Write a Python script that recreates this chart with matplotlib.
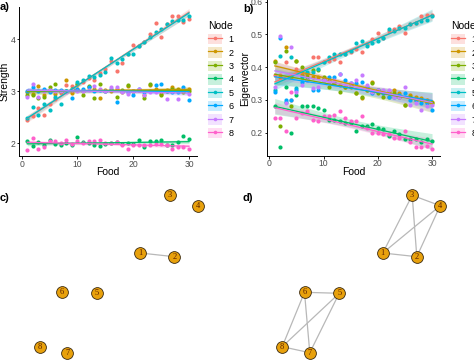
import numpy as np
import matplotlib
matplotlib.use("Agg")
import matplotlib.pyplot as plt
from matplotlib.patches import Patch
from matplotlib.lines import Line2D
from matplotlib.legend_handler import HandlerTuple

plt.rcParams['font.family'] = ['Liberation Sans', 'DejaVu Sans']

food = np.arange(1, 31)
nodes = ['1', '2', '3', '4', '5', '6', '7', '8']
node_colors = ['#F8766D', '#CD9600', '#7CAE00', '#00BE67',
               '#00BFC4', '#00A9FF', '#C77CFF', '#FF61CC']

# strength per node (panel a)
strength = {
    '1': [2.44, 2.52, 2.68, 2.55, 2.75, 2.86, 2.97, 3.12, 3.10, 3.15, 3.18, 3.25, 3.22, 3.35, 3.42,
          3.58, 3.40, 3.55, 3.72, 3.90, 3.88, 3.95, 4.10, 4.32, 4.05, 4.30, 4.45, 4.45, 4.33, 4.40],
    '2': [2.98, 2.95, 3.10, 2.92, 3.02, 2.95, 3.00, 3.22, 2.97, 3.05, 3.00, 3.08, 3.05, 2.88, 3.02,
          3.00, 3.05, 2.98, 3.10, 3.00, 3.02, 2.92, 3.12, 3.05, 2.95, 3.02, 3.08, 3.05, 3.02, 3.05],
    '3': [2.92, 2.92, 2.88, 2.90, 3.08, 3.15, 3.00, 3.00, 3.05, 3.15, 2.92, 3.10, 2.88, 3.15, 3.00,
          3.02, 2.90, 3.02, 3.12, 3.00, 3.02, 2.88, 3.15, 3.00, 2.92, 3.00, 3.05, 3.02, 2.98, 3.00],
    '4': [2.04, 1.95, 2.03, 1.97, 2.06, 1.98, 1.97, 2.00, 1.97, 2.12, 2.02, 2.00, 1.97, 1.94, 1.98,
          2.00, 2.02, 1.98, 2.00, 1.98, 2.06, 1.93, 2.05, 2.05, 2.06, 1.97, 1.97, 2.02, 2.14, 2.08],
    '5': [2.48, 2.70, 2.55, 2.75, 2.65, 2.90, 2.76, 3.00, 3.05, 3.18, 3.22, 3.30, 3.28, 3.32, 3.38,
          3.65, 3.55, 3.62, 3.72, 3.72, 3.88, 3.95, 4.05, 4.15, 4.20, 4.30, 4.35, 4.38, 4.38, 4.45],
    '6': [3.00, 3.08, 3.00, 3.05, 2.98, 3.02, 3.02, 3.00, 2.88, 3.05, 3.05, 3.08, 3.00, 3.02, 3.00,
          3.05, 2.80, 3.00, 2.98, 2.93, 3.05, 2.98, 3.00, 3.12, 3.15, 3.00, 2.98, 2.98, 3.08, 2.83],
    '7': [2.90, 3.15, 2.90, 3.00, 3.02, 3.00, 3.00, 2.98, 3.02, 3.00, 3.00, 3.02, 3.10, 3.05, 3.00,
          3.08, 3.08, 2.98, 2.95, 3.00, 3.05, 2.92, 2.98, 2.98, 3.00, 2.85, 3.00, 2.85, 3.02, 2.95],
    '8': [1.88, 2.10, 1.90, 1.92, 2.05, 2.05, 2.00, 2.07, 1.98, 2.05, 2.00, 2.04, 2.04, 2.06, 2.00,
          2.00, 2.02, 1.96, 1.90, 1.97, 1.96, 1.97, 1.96, 1.98, 1.98, 1.97, 1.90, 1.93, 1.92, 1.90],
}

# eigenvector centrality per node (panel b)
eigen = {
    '1': [0.375, 0.375, 0.415, 0.300, 0.395, 0.380, 0.380, 0.430, 0.432, 0.415, 0.420, 0.425, 0.415, 0.440, 0.445,
          0.455, 0.447, 0.470, 0.487, 0.505, 0.490, 0.510, 0.515, 0.525, 0.505, 0.530, 0.535, 0.555, 0.558, 0.560],
    '2': [0.420, 0.370, 0.460, 0.370, 0.420, 0.375, 0.380, 0.370, 0.370, 0.365, 0.360, 0.350, 0.345, 0.340, 0.345,
          0.320, 0.305, 0.330, 0.355, 0.330, 0.320, 0.325, 0.330, 0.320, 0.285, 0.315, 0.310, 0.305, 0.300, 0.295],
    '3': [0.415, 0.220, 0.448, 0.280, 0.420, 0.400, 0.370, 0.390, 0.390, 0.370, 0.340, 0.350, 0.325, 0.340, 0.340,
          0.320, 0.310, 0.330, 0.350, 0.320, 0.310, 0.310, 0.320, 0.310, 0.285, 0.310, 0.300, 0.300, 0.295, 0.290],
    '4': [0.280, 0.155, 0.340, 0.200, 0.315, 0.280, 0.280, 0.280, 0.275, 0.270, 0.240, 0.240, 0.235, 0.230, 0.230,
          0.205, 0.220, 0.220, 0.225, 0.215, 0.210, 0.190, 0.205, 0.195, 0.180, 0.180, 0.180, 0.170, 0.180, 0.175],
    '5': [0.330, 0.435, 0.295, 0.430, 0.335, 0.370, 0.385, 0.385, 0.395, 0.415, 0.430, 0.440, 0.440, 0.440, 0.450,
          0.475, 0.480, 0.465, 0.475, 0.480, 0.490, 0.515, 0.510, 0.520, 0.520, 0.530, 0.535, 0.540, 0.545, 0.555],
    '6': [0.325, 0.490, 0.300, 0.300, 0.330, 0.355, 0.360, 0.330, 0.330, 0.360, 0.370, 0.370, 0.380, 0.360, 0.350,
          0.350, 0.355, 0.340, 0.320, 0.330, 0.320, 0.310, 0.310, 0.315, 0.320, 0.300, 0.300, 0.290, 0.290, 0.270],
    '7': [0.340, 0.495, 0.290, 0.460, 0.325, 0.345, 0.360, 0.335, 0.340, 0.360, 0.355, 0.360, 0.380, 0.345, 0.350,
          0.360, 0.375, 0.345, 0.325, 0.330, 0.330, 0.330, 0.310, 0.310, 0.340, 0.285, 0.290, 0.270, 0.280, 0.285],
    '8': [0.245, 0.245, 0.205, 0.325, 0.245, 0.260, 0.265, 0.240, 0.235, 0.250, 0.250, 0.255, 0.265, 0.245, 0.235,
          0.235, 0.250, 0.215, 0.200, 0.200, 0.195, 0.195, 0.185, 0.185, 0.205, 0.170, 0.155, 0.155, 0.160, 0.150],
}

# network layout (same for c and d), panel pixel units
layout_x = [140.3, 174.3, 169.7, 197.7, 96.7, 62.0, 67.3, 39.7]
layout_y = [73.0, 76.7, 15.3, 25.7, 113.3, 112.3, 172.7, 166.7]
edges_c = [(1, 2)]
edges_d = [(1, 2), (1, 3), (1, 4), (2, 3), (2, 4), (3, 4),
           (5, 6), (5, 7), (5, 8), (6, 7), (6, 8), (7, 8)]

W, H = 474, 360
fig = plt.figure(figsize=(W / 100, H / 100), dpi=100)


def px_axes(left, top, right, bottom):
    return fig.add_axes([left / W, 1 - bottom / H, (right - left) / W, (bottom - top) / H])


def lm_band(x, y):
    x = np.asarray(x, float)
    y = np.asarray(y, float)
    b, a = np.polyfit(x, y, 1)
    resid = y - (a + b * x)
    n = len(x)
    s = np.sqrt(np.sum(resid ** 2) / (n - 2))
    xs = np.linspace(x.min(), x.max(), 80)
    se = s * np.sqrt(1 / n + (xs - x.mean()) ** 2 / np.sum((x - x.mean()) ** 2))
    fit = a + b * xs
    return xs, fit, fit - 2.048 * se, fit + 2.048 * se


def scatter_panel(ax, data, ylabel, yticks, ylim, ylab_x, xlab_y):
    for nd, col in zip(nodes, node_colors):
        ax.scatter(food, data[nd], s=9, color=col, linewidths=0, zorder=3)
    for nd, col in zip(nodes, node_colors):
        xs, fit, lo, hi = lm_band(food, data[nd])
        ax.fill_between(xs, lo, hi, color=col, alpha=0.22, linewidth=0, zorder=2)
        ax.plot(xs, fit, color=col, lw=0.9, zorder=4)
    ax.set_xlim(-0.45, 31.45)
    ax.set_ylim(*ylim)
    ax.set_xticks([0, 10, 20, 30])
    ax.set_yticks(yticks)
    for sp in ['top', 'right']:
        ax.spines[sp].set_visible(False)
    for sp in ['left', 'bottom']:
        ax.spines[sp].set_linewidth(0.7)
    ax.tick_params(length=1.8, width=0.6, labelsize=6.2, labelcolor='#4D4D4D', pad=1)
    ax.set_xlabel('Food', fontsize=7.5, va='center')
    ax.set_ylabel(ylabel, fontsize=7.5, va='center')
    ax.xaxis.set_label_coords(0.5, xlab_y)
    ax.yaxis.set_label_coords(ylab_x, 0.5)


def node_legend(ax, anchor):
    handles = [(Patch(facecolor=c, alpha=0.22, edgecolor='none'),
                Line2D([], [], color=c, lw=0.9, marker='o', markersize=2.6, markeredgewidth=0))
               for c in node_colors]
    leg = ax.legend(handles, nodes, title='Node', loc='upper left', bbox_to_anchor=anchor,
                    bbox_transform=fig.transFigure, frameon=False, fontsize=6.5,
                    title_fontsize=7.5, handlelength=1.6, handleheight=1.4,
                    labelspacing=0.33, handletextpad=0.7, borderpad=0, borderaxespad=0,
                    handler_map={tuple: HandlerTuple(ndivide=1, pad=0)})
    leg._legend_box.align = 'left'


ax_a = px_axes(19.2, 7.1, 197.1, 156.3)
scatter_panel(ax_a, strength, 'Strength', [2, 3, 4], (1.75, 4.62),
              (5 - 19.2) / 177.9, -(172 - 156.3) / 149.2)
node_legend(ax_a, (208 / W, 1 - 21 / H))

ax_b = px_axes(266.9, 0.4, 439.9, 155.6)
scatter_panel(ax_b, eigen, 'Eigenvector', [0.2, 0.3, 0.4, 0.5, 0.6], (0.13, 0.6035),
              (245.5 - 266.9) / 173.0, -(172 - 155.6) / 155.2)
ax_b.set_yticklabels(['0.2', '0.3', '0.4', '0.5', '0.6'])
node_legend(ax_b, (451 / W, 1 - 21 / H))


def network_panel(left, edges):
    ax = px_axes(left, 180, left + 237, 360)
    ax.set_xlim(0, 237)
    ax.set_ylim(180, 0)
    ax.axis('off')
    for i, j in edges:
        ax.plot([layout_x[i - 1], layout_x[j - 1]], [layout_y[i - 1], layout_y[j - 1]],
                color='#B8B8B8', lw=0.9, zorder=1)
    ax.scatter(layout_x, layout_y, s=72, color='#E8A10C', edgecolors='#3A2A10',
               linewidths=0.6, zorder=2, clip_on=False)
    for k, (x, y) in enumerate(zip(layout_x, layout_y)):
        ax.text(x, y, str(k + 1), ha='center', va='center', fontsize=6,
                family='Liberation Serif', color='#5C2000', zorder=3)


network_panel(0, edges_c)
network_panel(242.5, edges_d)

fig.text(0 / W, 1 - 7 / H, 'a)', fontsize=8, fontweight='bold', va='center', ha='left')
fig.text(243 / W, 1 - 9 / H, 'b)', fontsize=8, fontweight='bold', va='center', ha='left')
fig.text(0 / W, 1 - 198 / H, 'c)', fontsize=8, fontweight='bold', va='center', ha='left')
fig.text(243 / W, 1 - 198 / H, 'd)', fontsize=8, fontweight='bold', va='center', ha='left')

fig.savefig('out.png', dpi=100)
